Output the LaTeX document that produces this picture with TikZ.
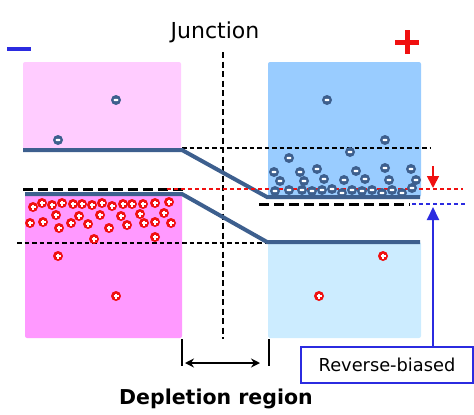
\documentclass[tikz,border=0pt]{standalone}
\usepackage{fontspec}
\setmainfont{DejaVu Sans}
\usetikzlibrary{arrows.meta}
\definecolor{band}{HTML}{3D5F8E}
\definecolor{lpink}{HTML}{FFCCFF}
\definecolor{dpink}{HTML}{FF99FF}
\definecolor{lblue}{HTML}{99CCFF}
\definecolor{llblue}{HTML}{CCECFF}
\definecolor{myblue}{HTML}{2B2BE0}
\definecolor{myred}{HTML}{F01010}
\tikzset{
  bandline/.style={draw=band,line width=4pt},
  fermi/.style={draw=black,line width=3pt,dash pattern=on 10pt off 5pt},
  thindash/.style={draw=black,line width=1.3pt,dash pattern=on 4.5pt off 3pt},
  junc/.style={draw=black,line width=2pt,dash pattern=on 6pt off 3.5pt},
  reddash/.style={draw=myred,line width=1.2pt,dash pattern=on 4pt off 3pt},
  bluedash/.style={draw=myblue,line width=1.2pt,dash pattern=on 4pt off 3pt},
  rbbox/.style={draw=myblue,line width=1.5pt,minimum width=172pt,minimum height=36pt,inner sep=0pt,font=\fontsize{17.8}{20}\selectfont},
}
\newcommand{\elecdot}[2]{\fill[band] (#1,#2) circle (5pt); \fill[white,rounded corners=0.9pt] (#1-2.4,#2-1.1) rectangle (#1+2.4,#2+1.1);}
\newcommand{\holedot}[2]{\fill[myred] (#1,#2) circle (5pt); \draw[white,line width=1.3pt] (#1-2.5,#2) -- (#1+2.5,#2) (#1,#2-2.5) -- (#1,#2+2.5);}
\begin{document}
\begin{tikzpicture}[x=1pt,y=-1pt]
\useasboundingbox (0,0) rectangle (474,415);
% boxes
\fill[lpink,rounded corners=2pt] (23,62) rectangle (181,150);
\fill[dpink,rounded corners=2pt] (25,194) rectangle (182,338);
\fill[lblue,rounded corners=2pt] (268,62) rectangle (421,197);
\fill[llblue,rounded corners=2pt] (268,242) rectangle (421,338);
% thin dashed
\draw[thindash] (182,148) -- (430,148);
\draw[thindash] (17,243) -- (267,243);
% junction
\draw[junc] (223,52) -- (223,339);
% band lines
\draw[bandline] (23,150) -- (182,150) -- (267,197) -- (420,197);
\draw[bandline] (25,194) -- (182,194) -- (267,242) -- (420,242);
% fermi levels
\draw[fermi] (23,189) -- (185,189);
\draw[fermi] (259,204) -- (410,204);
\draw[reddash] (167,189) -- (463,189);
\draw[bluedash] (412,204) -- (465,204);
% electrons
\foreach \x/\y in {116/100,58/140,327/100,385/140,289/158,350/152,274/172,280/181,300/172,304/181,317/169,324/179,344/180,356/171,365/179,385/168,389/180,411/169,416/180,275/191,289/190,302/190,312/191,322/190,332/189,342/193,352/190,362/191,372/190,382/193,392/190,402/193,412/188}
  {\elecdot{\x}{\y}}
% holes
\foreach \x/\y in {33/207,42/203,52/205,62/203,73/204,82/204,92/205,102/203,112/206,123/204,132/204,143/204,155/203,169/202,56/215,79/216,100/215,121/216,140/214,164/213,30/223,43/222,59/228,71/223,88/224,109/228,127/225,144/223,155/222,171/223,94/239,155/237,58/256,116/296,383/256,319/296}
  {\holedot{\x}{\y}}
% signs
\fill[myblue] (7,47) rectangle (31,51);
\fill[myred] (395,39.5) rectangle (419,44.5);
\fill[myred] (404.5,30) rectangle (409.5,54);
% labels
\node[anchor=base,inner sep=0pt,font=\fontsize{22}{24}\selectfont] (junction) at (215,38) {Junction};
\node[anchor=base,inner sep=0pt,font=\bfseries\fontsize{20.5}{22}\selectfont] (depl) at (216,404) {Depletion region};
% depletion markers
\coordinate (tl1) at (182,339); \coordinate (tl2) at (182,366);
\coordinate (tr1) at (269,339); \coordinate (tr2) at (269,366);
\draw[line width=1.2pt] (tl1) -- (tl2);
\draw[line width=1.2pt] (tr1) -- (tr2);
\coordinate (da) at (185,363); \coordinate (db) at (260,363);
\draw[line width=1.8pt,{Stealth[length=9pt,width=9pt]}-{Stealth[length=9pt,width=9pt]}] (da) -- (db);
% reverse biased
\node[rbbox] (rb) at (387,365) {Reverse-biased};
\coordinate (bt) at (433,207);
\draw[myblue,line width=2pt,-{Triangle[length=13pt,width=12pt]}] (rb.north -| bt) -- (bt);
\coordinate (rs) at (433,166); \coordinate (rt) at (433,188);
\draw[myred,line width=1.6pt,-{Triangle[length=12pt,width=12pt]}] (rs) -- (rt);
\end{tikzpicture}
\end{document}
